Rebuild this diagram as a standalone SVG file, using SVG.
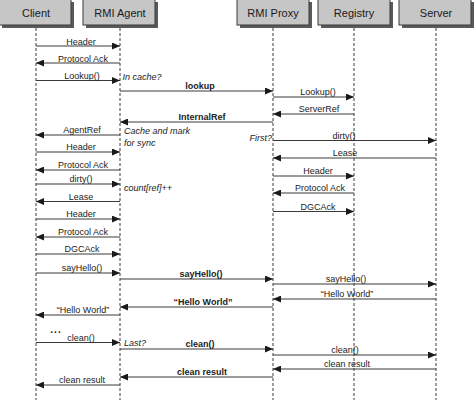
<svg xmlns="http://www.w3.org/2000/svg" width="474" height="400" viewBox="0 0 474 400">
<defs>
<marker id="ah" markerWidth="8" markerHeight="7" refX="8" refY="3.5" orient="auto" markerUnits="userSpaceOnUse">
<path d="M0,0 L8,3.5 L0,7 z" fill="#1a1a1a"/>
</marker>
<style>
.box{fill:#c6c6c6;stroke:#3a3a3a;stroke-width:1}
.shadow{fill:#5a5a5a}
.hdr{font-family:"Liberation Sans",Arial,sans-serif;font-size:11px;fill:#1a1a1a;text-anchor:middle}
.life{stroke:#3a3a3a;stroke-width:1;stroke-dasharray:3,2}
.msg{stroke:#3a3a3a;stroke-width:1;fill:none;marker-end:url(#ah)}
.lbl{font-family:"Liberation Sans",Arial,sans-serif;font-size:9px;fill:#222;text-anchor:middle}
.b{font-weight:bold}
.note{font-family:"Liberation Sans",Arial,sans-serif;font-size:9px;font-style:italic;fill:#222}
</style>
</defs>
<rect width="474" height="400" fill="#ffffff"/>
<g id="client">
<rect class="shadow" x="2" y="2" width="72" height="26"/>
<rect class="box" x="-1" y="-1" width="72" height="26"/>
<text class="hdr" x="36" y="17">Client</text>
<line class="life" x1="36" y1="28" x2="36" y2="400"/>
</g>
<g id="rmi-agent">
<rect class="shadow" x="86" y="2" width="72" height="26"/>
<rect class="box" x="83" y="-1" width="72" height="26"/>
<text class="hdr" x="120" y="17">RMI Agent</text>
<line class="life" x1="120" y1="28" x2="120" y2="400"/>
</g>
<g id="rmi-proxy">
<rect class="shadow" x="240" y="2" width="72" height="26"/>
<rect class="box" x="237" y="-1" width="72" height="26"/>
<text class="hdr" x="273" y="17">RMI Proxy</text>
<line class="life" x1="273" y1="28" x2="273" y2="400"/>
</g>
<g id="registry">
<rect class="shadow" x="321" y="2" width="72" height="26"/>
<rect class="box" x="318" y="-1" width="72" height="26"/>
<text class="hdr" x="354" y="17">Registry</text>
<line class="life" x1="354" y1="28" x2="354" y2="400"/>
</g>
<g id="server">
<rect class="shadow" x="402" y="2" width="72" height="26"/>
<rect class="box" x="399" y="-1" width="72" height="26"/>
<text class="hdr" x="436" y="17">Server</text>
<line class="life" x1="436" y1="28" x2="436" y2="400"/>
</g>
<g id="connectors">
<line class="msg" x1="36" y1="46" x2="120" y2="46"/>
<line class="msg" x1="120" y1="63" x2="36" y2="63"/>
<line class="msg" x1="36" y1="80.5" x2="120" y2="80.5"/>
<line class="msg" x1="120" y1="91" x2="273" y2="91"/>
<line class="msg" x1="273" y1="97" x2="354" y2="97"/>
<line class="msg" x1="354" y1="114" x2="273" y2="114"/>
<line class="msg" x1="273" y1="122" x2="120" y2="122"/>
<line class="msg" x1="120" y1="135" x2="36" y2="135"/>
<line class="msg" x1="273" y1="140.5" x2="436" y2="140.5"/>
<line class="msg" x1="36" y1="152" x2="120" y2="152"/>
<line class="msg" x1="436" y1="158" x2="273" y2="158"/>
<line class="msg" x1="120" y1="170" x2="36" y2="170"/>
<line class="msg" x1="273" y1="176" x2="354" y2="176"/>
<line class="msg" x1="36" y1="184" x2="120" y2="184"/>
<line class="msg" x1="354" y1="193" x2="273" y2="193"/>
<line class="msg" x1="120" y1="201.5" x2="36" y2="201.5"/>
<line class="msg" x1="273" y1="211.5" x2="354" y2="211.5"/>
<line class="msg" x1="36" y1="219" x2="120" y2="219"/>
<line class="msg" x1="120" y1="237" x2="36" y2="237"/>
<line class="msg" x1="36" y1="254" x2="120" y2="254"/>
<line class="msg" x1="36" y1="273" x2="120" y2="273"/>
<line class="msg" x1="120" y1="279" x2="273" y2="279"/>
<line class="msg" x1="273" y1="284" x2="436" y2="284"/>
<line class="msg" x1="436" y1="299" x2="273" y2="299"/>
<line class="msg" x1="273" y1="307" x2="120" y2="307"/>
<line class="msg" x1="120" y1="315" x2="36" y2="315"/>
<line class="msg" x1="36" y1="342.5" x2="120" y2="342.5"/>
<line class="msg" x1="120" y1="349" x2="273" y2="349"/>
<line class="msg" x1="273" y1="355" x2="436" y2="355"/>
<line class="msg" x1="436" y1="369" x2="273" y2="369"/>
<line class="msg" x1="273" y1="377" x2="120" y2="377"/>
<line class="msg" x1="120" y1="385" x2="36" y2="385"/>
</g>
<g id="labels">
<text class="lbl" x="81" y="44.5">Header</text>
<text class="lbl" x="83" y="61.5">Protocol Ack</text>
<text class="lbl" x="82" y="79">Lookup()</text>
<text class="lbl b" x="200" y="88.5">lookup</text>
<text class="lbl" x="318" y="95">Lookup()</text>
<text class="lbl" x="319" y="112">ServerRef</text>
<text class="lbl b" x="202" y="120">InternalRef</text>
<text class="lbl" x="82" y="133">AgentRef</text>
<text class="lbl" x="344" y="138.5">dirty()</text>
<text class="lbl" x="81" y="150">Header</text>
<text class="lbl" x="345" y="156">Lease</text>
<text class="lbl" x="83" y="168">Protocol Ack</text>
<text class="lbl" x="318" y="174">Header</text>
<text class="lbl" x="81" y="182">dirty()</text>
<text class="lbl" x="320" y="191">Protocol Ack</text>
<text class="lbl" x="81" y="199.5">Lease</text>
<text class="lbl" x="318" y="209.5">DGCAck</text>
<text class="lbl" x="81" y="217">Header</text>
<text class="lbl" x="83" y="235">Protocol Ack</text>
<text class="lbl" x="82" y="252">DGCAck</text>
<text class="lbl" x="82" y="271">sayHello()</text>
<text class="lbl b" x="201" y="276.5">sayHello()</text>
<text class="lbl" x="346" y="282">sayHello()</text>
<text class="lbl" x="347" y="297">“Hello World”</text>
<text class="lbl b" x="203" y="304.5">“Hello World”</text>
<text class="lbl" x="83" y="313">“Hello World”</text>
<text class="lbl" x="81" y="340.5">clean()</text>
<text class="lbl b" x="200" y="346.5">clean()</text>
<text class="lbl" x="345" y="353">clean()</text>
<text class="lbl" x="347" y="367">clean result</text>
<text class="lbl b" x="202" y="374.5">clean result</text>
<text class="lbl" x="82" y="383">clean result</text>
</g>
<g id="notes">
<text class="note" x="122.5" y="80">In cache?</text>
<text class="note" x="124" y="134">Cache and mark</text>
<text class="note" x="124" y="145.5">for sync</text>
<text class="note" x="272" y="141" text-anchor="end">First?</text>
<text class="note" x="124" y="191">count[ref]++</text>
<text class="note" x="124" y="346">Last?</text>
<text class="lbl b" x="56" y="333" style="font-size:10px;letter-spacing:1px">...</text>
</g>
</svg>
